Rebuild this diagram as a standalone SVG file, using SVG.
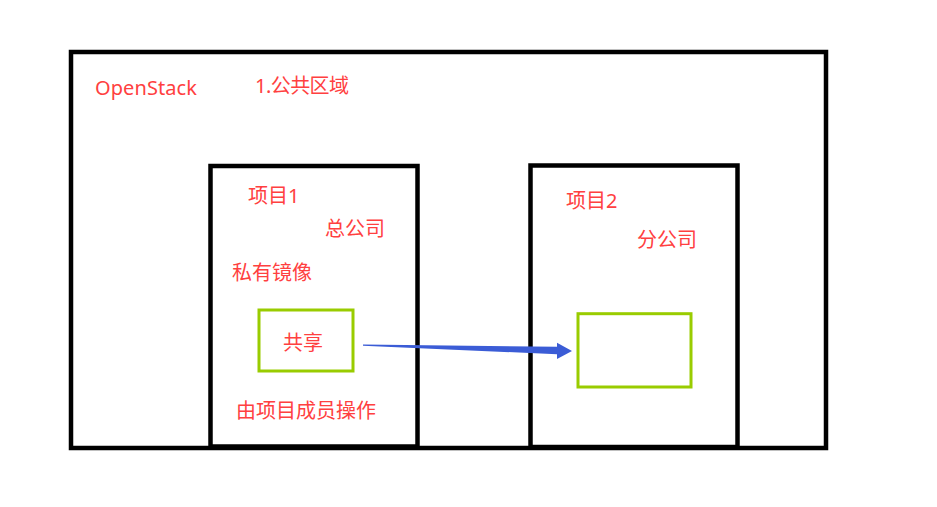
<svg xmlns="http://www.w3.org/2000/svg" width="937" height="507" viewBox="0 0 937 507">
<style>
.box{fill:none;stroke:#000;stroke-width:4.5}
.g{fill:none;stroke:#99cc00;stroke-width:3}
.t{font-family:"Noto Sans","Noto Sans CJK SC",sans-serif;font-size:20px;fill:#ff4040}
</style>
<rect width="937" height="507" fill="#fff"/>
<g id="openstack">
<rect class="box" x="71" y="52" width="755" height="396"/>
<text class="t" x="95" y="95" textLength="102">OpenStack</text>
<text class="t" x="255" y="93" textLength="94">1.公共区域</text>
</g>
<g id="project1">
<rect class="box" x="210.5" y="166" width="207" height="280.5"/>
<text class="t" x="248" y="203">项目1</text>
<text class="t" x="325" y="236">总公司</text>
<text class="t" x="232" y="280">私有镜像</text>
<text class="t" x="236" y="418">由项目成员操作</text>
</g>
<g id="share1">
<rect class="g" x="259" y="310" width="94" height="61"/>
<text class="t" x="283" y="350">共享</text>
</g>
<g id="project2">
<rect class="box" x="530.5" y="165.5" width="207" height="281.5"/>
<text class="t" x="566" y="207.5">项目2</text>
<text class="t" x="637" y="246.5">分公司</text>
</g>
<g id="share2">
<rect class="g" x="578" y="313.7" width="113" height="73.3"/>
</g>
<g id="connectors">
<polygon points="363,344.5 557,346.8 557,342.7 572,351 557,359 557,354.2 363,345.8" fill="#3b5cd6"/>
</g>
</svg>
